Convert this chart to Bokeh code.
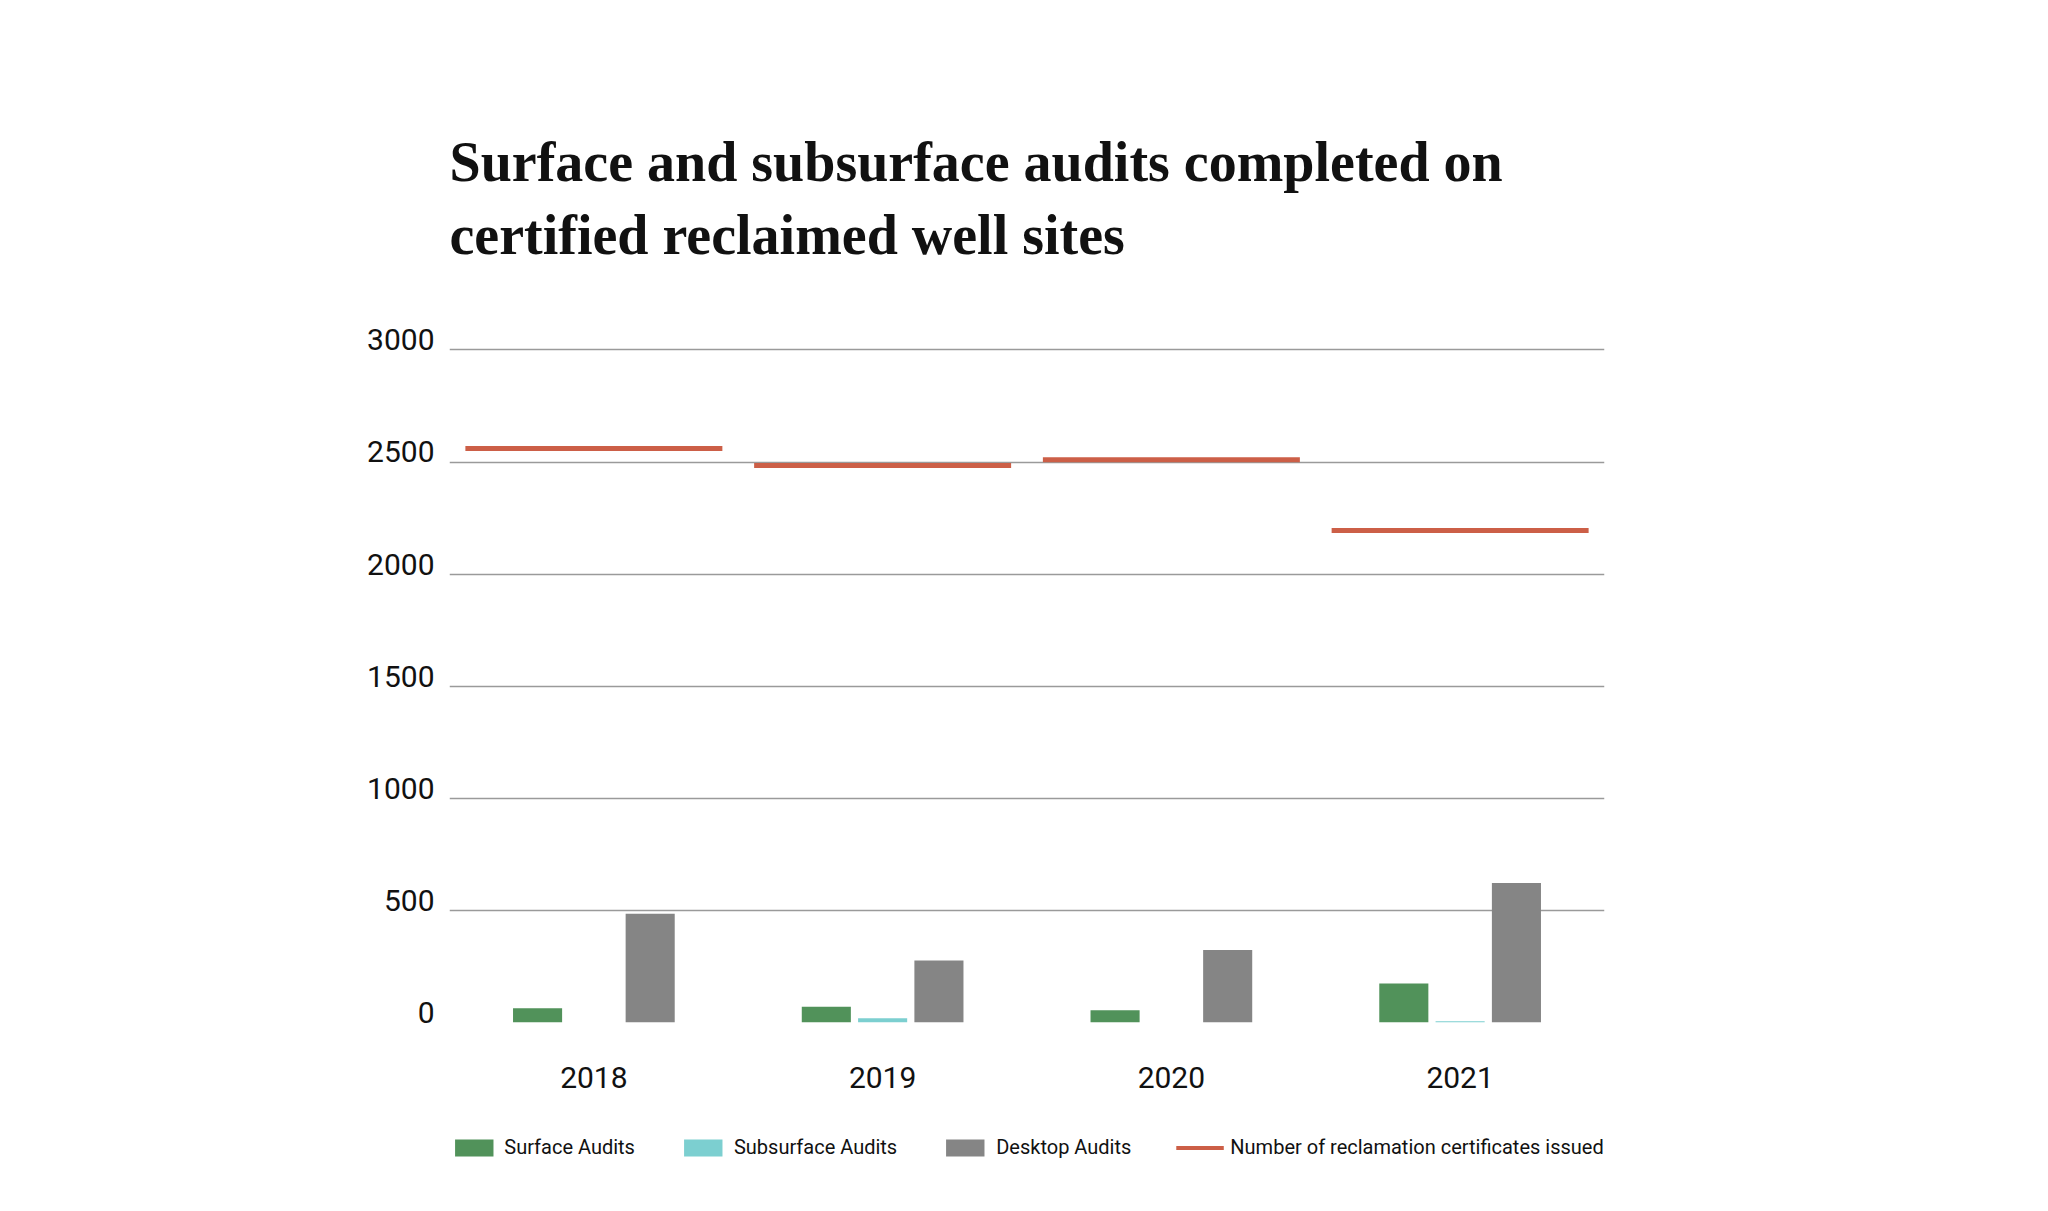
from bokeh.plotting import figure
from bokeh.layouts import column
from bokeh.models import (FactorRange, Range1d, Legend, LegendItem, FixedTicker,
                          ColumnDataSource, LinearAxis)
from bokeh.transform import dodge
from bokeh.embed import file_html
from bokeh.resources import INLINE

years = ["2018", "2019", "2020", "2021"]
surface_audits = [64, 70, 55, 174]
subsurface_audits = [0, 19, 0, 6]
desktop_audits = [485, 277, 323, 622]
certificates = [2560, 2485, 2510, 2195]
y_ticks = [0, 500, 1000, 1500, 2000, 2500, 3000]

title_text = "Surface and subsurface audits completed on\ncertified reclaimed well sites"
legend_labels = ["Surface Audits", "Subsurface Audits", "Desktop Audits",
                 "Number of reclamation certificates issued"]

GREEN = "#51925a"
CYAN = "#7ccfd0"
GRAY = "#858585"
RED = "#cc5f47"
SANS = "Roboto"
SERIF = "Liberation Serif"

W, H_MAIN, H_LEG = 2048, 1110, 101

src = ColumnDataSource(dict(year=years, surface=surface_audits, subsurface=subsurface_audits,
                            desktop=desktop_audits, cert=certificates))

bw = 0.17
bar_specs = [("surface", -0.195, GREEN), ("subsurface", 0.0, CYAN), ("desktop", 0.195, GRAY)]


def draw_series(fig):
    rs = []
    for col, off, colr in bar_specs:
        rs.append(fig.vbar(x=dodge("year", off, range=fig.x_range), top=col, width=bw, source=src,
                           fill_color=colr, line_color=None))
    rs.append(fig.segment(x0=dodge("year", -0.445, range=fig.x_range),
                          x1=dodge("year", 0.445, range=fig.x_range),
                          y0="cert", y1="cert", source=src, line_color=RED, line_width=5))
    return rs


p = figure(width=W, height=H_MAIN, x_range=FactorRange(*years), y_range=Range1d(0, 3060),
           output_backend="svg", toolbar_location=None,
           min_border_left=449, min_border_right=444, min_border_top=336, min_border_bottom=88)

p.title.text = title_text
p.title.text_font = SERIF
p.title.text_font_size = "56px"
p.title.text_font_style = "bold"
p.title.text_color = "#111111"
p.title.text_line_height = 1.18
p.title.standoff = 141

draw_series(p)

p.outline_line_color = None
p.xgrid.grid_line_color = None
p.ygrid.grid_line_color = "#9a9a9a"
p.ygrid.grid_line_width = 1.5
p.ygrid.ticker = FixedTicker(ticks=y_ticks)
p.yaxis[0].visible = False

# tick labels sit slightly above their gridlines: a label axis on a range shifted by ~10 px
p.extra_y_ranges = {"lab": Range1d(-45, 3015)}
lab_axis = LinearAxis(y_range_name="lab", ticker=FixedTicker(ticks=y_ticks))
p.add_layout(lab_axis, "left")

for ax in (p.xaxis[0], lab_axis):
    ax.axis_line_color = None
    ax.major_tick_line_color = None
    ax.minor_tick_line_color = None
    ax.major_label_text_font = SANS
    ax.major_label_text_font_size = "30px"
    ax.major_label_text_color = "#111111"
lab_axis.major_label_standoff = 9
p.xaxis.major_label_standoff = 38

# legend strip below the chart (hidden copies of the series supply the legend glyphs)
lf = figure(width=W, height=H_LEG, x_range=FactorRange(*years), y_range=Range1d(0, 3060),
            output_backend="svg", toolbar_location=None, x_axis_location=None,
            y_axis_location=None, min_border=0)
lf.outline_line_color = None
lf.grid.visible = False
lrs = draw_series(lf)
for r in lrs:
    r.visible = False
lrs[3].glyph.line_width = 4

legend = Legend(items=[LegendItem(label=l, renderers=[r]) for l, r in zip(legend_labels, lrs)],
                orientation="horizontal", location="top_center", margin=25, padding=0, spacing=44,
                glyph_width=48, glyph_height=21, label_standoff=7,
                label_text_font=SANS, label_text_font_size="20px", label_text_color="#111111",
                border_line_color=None, background_fill_alpha=0)
lf.add_layout(legend, "center")

page = column(p, lf, spacing=0)
open("out.html", "w").write(file_html(page, INLINE))
